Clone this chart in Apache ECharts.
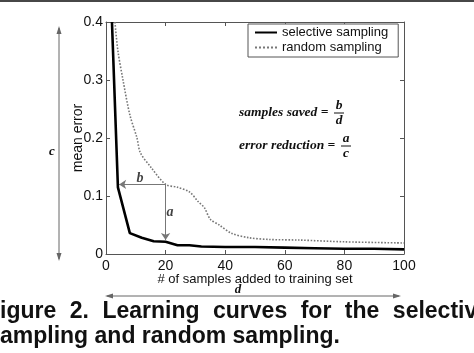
<!DOCTYPE html>
<html>
<head>
<meta charset="utf-8">
<script src="https://cdn.jsdelivr.net/npm/echarts@6/dist/echarts.min.js"></script>
<style>
html, body { margin: 0; padding: 0; background: #fff; }
#main { width: 474px; height: 353px; }
</style>
</head>
<body>
<div id="main"></div>
<script>
// # of samples added (x) and mean error (y)
const selX = [2, 4, 8, 12, 16, 20, 24, 28, 32, 40, 50, 60, 70, 80, 90, 100];
const selErr = [0.40, 0.115, 0.036, 0.028, 0.022, 0.021, 0.015, 0.015, 0.013, 0.012, 0.012, 0.011, 0.010, 0.009, 0.009, 0.008];
const randX = [3, 4, 5.7, 8, 10.4, 11.5, 15, 20, 24, 28, 31, 33, 35, 38, 42, 48, 55, 65, 80, 100];
const randErr = [0.40, 0.35, 0.30, 0.24, 0.20, 0.175, 0.15, 0.12, 0.115, 0.107, 0.09, 0.08, 0.06, 0.05, 0.036, 0.028, 0.025, 0.024, 0.021, 0.019];
const xTicks = [0, 20, 40, 60, 80, 100];
const yTicks = [0, 0.1, 0.2, 0.3, 0.4];
const seriesNames = ['selective sampling', 'random sampling'];

// a / b arrows
const arrowX = 20;
const arrowBEnd = 4.4;
const arrowAEnd = 0.024;
const arrowY = randErr[randX.indexOf(arrowX)];

const captionLine1 = ['Figure', '2.', 'Learning', 'curves', 'for', 'the', 'selective'];
const captionLine2 = 'sampling and random sampling.';

const sans = '"Liberation Sans", Arial, Helvetica, sans-serif';
const serif = '"Liberation Serif", "Times New Roman", serif';

const chart = echarts.init(document.getElementById('main'));

// caption is justified and cut at both edges
const capFont = 'bold 23px ' + sans;
const ctx = document.createElement('canvas').getContext('2d');
ctx.font = capFont;
const tw = s => ctx.measureText(s).width;

const graphics = [
	{ type: 'rect', shape: { x: 0, y: 0, width: 474, height: 2 }, style: { fill: '#474747' } }
];
let cx = -tw('F');
captionLine1.forEach(word => {
	graphics.push({ type: 'text', x: cx, y: 312, style: { text: word, font: capFont, fill: '#111', verticalAlign: 'middle' } });
	cx += tw(word) + 13.5;
});
graphics.push({ type: 'text', x: -tw('s'), y: 337, style: { text: captionLine2, font: capFont, fill: '#111', verticalAlign: 'middle' } });

// c and d arrows
const arrowCol = '#666';
graphics.push(
	{ type: 'line', shape: { x1: 59, y1: 28, x2: 59, y2: 259 }, style: { stroke: arrowCol, lineWidth: 1 } },
	{ type: 'polygon', shape: { points: [[59, 26], [56.5, 34], [61.5, 34]] }, style: { fill: arrowCol } },
	{ type: 'polygon', shape: { points: [[59, 261], [56.5, 253], [61.5, 253]] }, style: { fill: arrowCol } },
	{ type: 'text', x: 52, y: 152, style: { text: 'c', font: 'italic bold 13px ' + serif, fill: '#111', verticalAlign: 'middle', align: 'center' } },
	{ type: 'line', shape: { x1: 107, y1: 296, x2: 399, y2: 296 }, style: { stroke: arrowCol, lineWidth: 1 } },
	{ type: 'polygon', shape: { points: [[105, 296], [113, 293.5], [113, 298.5]] }, style: { fill: arrowCol } },
	{ type: 'polygon', shape: { points: [[401, 296], [393, 293.5], [393, 298.5]] }, style: { fill: arrowCol } },
	{ type: 'text', x: 238, y: 290, style: { text: 'd', font: 'italic bold 13px ' + serif, fill: '#111', verticalAlign: 'middle', align: 'center' } }
);

// formulas
const fFont = 'italic bold 13.5px ' + serif;
function fraction(label, num, den, x, y, fx) {
	graphics.push(
		{ type: 'text', x: x, y: y, style: { text: label, font: fFont, fill: '#111', verticalAlign: 'middle' } },
		{ type: 'text', x: fx, y: y - 7, style: { text: num, font: fFont, fill: '#111', verticalAlign: 'middle', align: 'center' } },
		{ type: 'line', shape: { x1: fx - 5, y1: y, x2: fx + 5, y2: y }, style: { stroke: '#111', lineWidth: 1 } },
		{ type: 'text', x: fx, y: y + 8, style: { text: den, font: fFont, fill: '#111', verticalAlign: 'middle', align: 'center' } }
	);
}
fraction('samples saved =', 'b', 'd', 239, 113, 339);
fraction('error reduction =', 'a', 'c', 239, 146, 346);

const axisCol = '#555';
const baseX = {
	type: 'value', min: xTicks[0], max: xTicks[xTicks.length - 1], interval: xTicks[1] - xTicks[0],
	axisLine: { show: true, onZero: false, lineStyle: { color: axisCol, width: 1 } },
	axisTick: { inside: true, length: 4, lineStyle: { color: axisCol } },
	splitLine: { show: false }
};
const baseY = {
	type: 'value', min: yTicks[0], max: yTicks[yTicks.length - 1], interval: yTicks[1] - yTicks[0],
	axisLine: { show: true, onZero: false, lineStyle: { color: axisCol, width: 1 } },
	axisTick: { inside: true, length: 4, lineStyle: { color: axisCol } },
	splitLine: { show: false }
};

const option = {
	animation: false,
	backgroundColor: '#fff',
	grid: { left: 106, right: 70, top: 22, bottom: 99 },
	legend: {
		data: seriesNames,
		orient: 'vertical',
		left: 248,
		top: 24,
		padding: [2, 10, 3, 6],
		itemGap: 2,
		itemWidth: 22,
		itemHeight: 14,
		backgroundColor: '#fff',
		borderColor: axisCol,
		borderWidth: 1,
		borderRadius: 0,
		itemStyle: { opacity: 0 },
		textStyle: { fontFamily: sans, fontSize: 13, color: '#111' }
	},
	xAxis: [
		Object.assign({}, baseX, {
			position: 'bottom',
			name: '# of samples added to training set',
			nameLocation: 'middle',
			nameGap: 19,
			nameMoveOverlap: false,
			nameTextStyle: { fontFamily: sans, fontSize: 13, color: '#111' },
			axisLabel: { fontFamily: sans, fontSize: 14, color: '#111', margin: 5 }
		}),
		Object.assign({}, baseX, { position: 'top', axisLabel: { show: false } })
	],
	yAxis: [
		Object.assign({}, baseY, {
			position: 'left',
			name: 'mean error',
			nameLocation: 'middle',
			nameGap: 21,
			nameMoveOverlap: false,
			nameTextStyle: { fontFamily: sans, fontSize: 14, color: '#111' },
			axisLabel: { fontFamily: sans, fontSize: 14, color: '#111', margin: 3 }
		}),
		Object.assign({}, baseY, { position: 'right', axisLabel: { show: false } })
	],
	series: [
		{
			name: seriesNames[0],
			type: 'line',
			data: selX.map((x, i) => [x, selErr[i]]),
			symbol: 'none',
			lineStyle: { color: '#000', width: 2.6 },
			itemStyle: { color: '#000' },
			z: 3
		},
		{
			name: seriesNames[1],
			type: 'line',
			smooth: 0.3,
			data: randX.map((x, i) => [x, randErr[i]]),
			symbol: 'none',
			lineStyle: { color: '#777', width: 1.6, type: 'dotted' },
			itemStyle: { color: '#777' },
			z: 2
		},
		{
			name: 'notes',
			type: 'scatter',
			symbolSize: 1,
			itemStyle: { color: 'rgba(0,0,0,0)' },
			silent: true,
			data: [[11.4, 0.13, 'b'], [21.5, 0.072, 'a']],
			label: {
				show: true,
				position: 'inside',
				formatter: p => p.value[2],
				fontFamily: serif,
				fontStyle: 'italic',
				fontWeight: 'bold',
				fontSize: 14,
				color: '#111'
			},
			markLine: {
				silent: true,
				symbol: ['none', 'arrow'],
				symbolSize: 7,
				label: { show: false },
				lineStyle: { color: '#777', width: 1, type: 'solid' },
				data: [
					[{ coord: [arrowX, arrowY] }, { coord: [arrowBEnd, arrowY] }],
					[{ coord: [arrowX, arrowY] }, { coord: [arrowX, arrowAEnd] }]
				]
			}
		}
	],
	graphic: graphics
};

chart.setOption(option);
</script>
</body>
</html>
